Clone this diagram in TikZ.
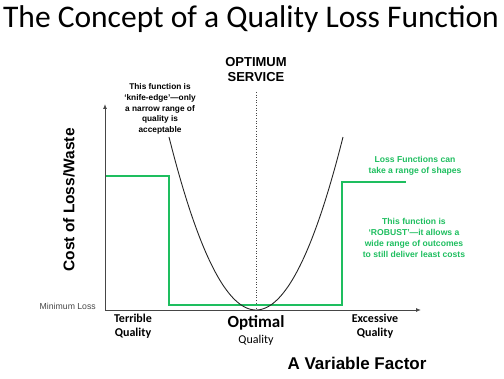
\documentclass[tikz,border=0pt]{standalone}
\usepackage{fontspec}
\setmainfont{Liberation Sans}
\newfontfamily\calibri{Carlito}
\usepackage{xcolor}
\usetikzlibrary{arrows.meta, positioning}
\definecolor{lossgreen}{RGB}{30,190,95}
\definecolor{axisgray}{RGB}{70,70,70}
\tikzstyle{axis} = [axisgray, line width=0.9pt, -{Latex[length=5pt,width=4pt]}]
\tikzstyle{greenline} = [lossgreen, line width=1.1pt]
\tikzstyle{note} = [align=center, font=\bfseries\fontsize{8.3}{10.7}\selectfont, inner sep=0pt]
\tikzstyle{greennote} = [align=center, text=lossgreen, font=\bfseries\fontsize{8.6}{11}\selectfont, inner sep=0pt]
\tikzstyle{qlabel} = [align=center, font=\calibri\bfseries\fontsize{12}{14}\selectfont, inner sep=0pt]

\begin{document}
\begin{tikzpicture}[x=1pt, y=-1pt]
    \useasboundingbox (0,0) rectangle (504,379);
    % title
    \node (title) [font=\calibri\fontsize{31.5}{34}\selectfont, inner sep=0pt] at (251,19) {The Concept of a Quality Loss Function};

    % axes
    \coordinate (origin) at (105,310);
    \coordinate (ytop) at (105,104);
    \coordinate (xend) at (421,310);
    \draw [axis] (origin) -- (ytop);
    \draw [axis] (origin) -- (xend);

    % optimum line
    \node (opt) [font=\bfseries\fontsize{13}{15}\selectfont, align=center, inner sep=0pt] at (256,70) {OPTIMUM\\SERVICE};
    \coordinate (opttop) at (256,92);
    \coordinate (optbot) at (256,310);
    \draw [axisgray, dotted, line width=0.6pt] (opttop) -- (optbot);

    % robust loss function
    \coordinate (g1) at (106,176);
    \coordinate (g2) at (169,176);
    \coordinate (g3) at (169,305);
    \coordinate (g4) at (342,305);
    \coordinate (g5) at (342,182);
    \coordinate (g6) at (406,182);
    \draw [greenline] (g1) -- (g2) -- (g3) -- (g4) -- (g5) -- (g6);

    % knife-edge loss function
    \draw [black!85, line width=0.9pt] plot[domain=-87:87, samples=80, smooth] ({256+\x}, {310-173*(\x/87)*(\x/87)});

    % notes
    \node (knife) [note] at (160,109) {This function is\\`knife-edge'---only\\a narrow range of\\quality is\\acceptable};
    \node (shapes) [greennote] at (415,166) {Loss Functions can\\take a range of shapes};
    \node (robust) [greennote] at (414,238) {This function is\\`ROBUST'---it allows a\\wide range of outcomes\\to still deliver least costs};

    % axis labels
    \node (minloss) [text=axisgray, font=\fontsize{8.7}{10}\selectfont, inner sep=0pt, anchor=east] at (96,306) {Minimum Loss};
    \node (ylabel) [rotate=90, font=\bfseries\fontsize{15.5}{18}\selectfont, inner sep=0pt] at (69,200) {Cost of Loss/Waste};
    \node (terrible) [qlabel] at (133,326) {Terrible\\Quality};
    \node (optimal) [font=\calibri\bfseries\fontsize{17}{20}\selectfont, inner sep=0pt] at (256,323) {Optimal};
    \node (optq) [font=\calibri\fontsize{12}{14}\selectfont, inner sep=0pt, below=4pt of optimal] {Quality};
    \node (excessive) [qlabel] at (375,326) {Excessive\\Quality};
    \node (xlabel) [font=\bfseries\fontsize{17}{20}\selectfont, inner sep=0pt] at (357,363) {A Variable Factor};
\end{tikzpicture}
\end{document}
